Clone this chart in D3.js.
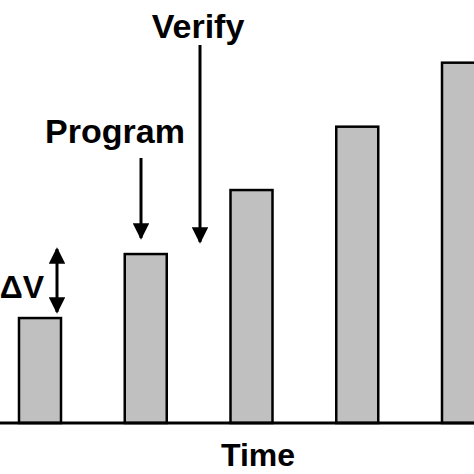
<!DOCTYPE html><html><head><script src="https://cdn.jsdelivr.net/npm/d3@7"></script>
<style>body{margin:0}</style></head><body><script>
const categories=["P1","P2","P3","P4","P5"];
const values=[1.64,2.64,3.64,4.63,5.63];
const W=474,H=474;
const svg=d3.select("body").append("svg").attr("width",W).attr("height",H).style("font-family","Liberation Sans, Arial, sans-serif");
const x=d3.scaleLinear().domain([0,4]).range([40,463]);
const y=d3.scaleLinear().domain([0,6]).range([423,39]);
const bw=42;
svg.selectAll("rect").data(values).join("rect")
 .attr("x",(d,i)=>x(i)-bw/2).attr("y",d=>y(d)).attr("width",bw).attr("height",d=>y(0)-y(d))
 .attr("fill","#c0c0c0").attr("stroke","#000").attr("stroke-width",2.5);
svg.append("line").attr("x1",0).attr("x2",W).attr("y1",y(0)).attr("y2",y(0)).attr("stroke","#000").attr("stroke-width",3);
const defs=svg.append("defs");
defs.append("marker").attr("id","ah").attr("viewBox","0 0 10 10").attr("refX",9).attr("refY",5)
 .attr("markerWidth",5.5).attr("markerHeight",5.5).attr("markerUnits","strokeWidth").attr("orient","auto-start-reverse")
 .append("path").attr("d","M0,0L10,5L0,10z").attr("fill","#000");
function arrow(x1,y1,x2,y2,both){const l=svg.append("line").attr("x1",x1).attr("y1",y1).attr("x2",x2).attr("y2",y2).attr("stroke","#000").attr("stroke-width",3).attr("marker-end","url(#ah)");if(both)l.attr("marker-start","url(#ah)");}
arrow(57,249,57,312,true);
arrow(141,158,141,238);
arrow(200,45,200,242);
function txt(s,xx,yy,fs){svg.append("text").attr("x",xx).attr("y",yy).attr("text-anchor","middle").attr("font-weight","bold").attr("font-size",fs).text(s);}
txt("Program",115,143,34);
txt("Verify",198,38,34);
txt("Time",258,466,32);
txt("ΔV",22,298,32);
</script></body></html>
